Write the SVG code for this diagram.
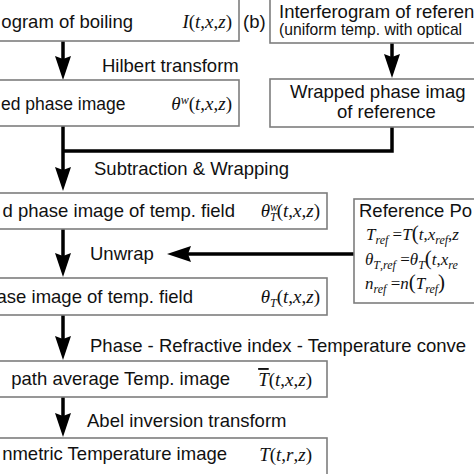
<svg xmlns="http://www.w3.org/2000/svg" width="474" height="474" viewBox="0 0 474 474">
<style>
.box{fill:#fff;stroke:#7d7d7d;stroke-width:1.6}
.lbl{font-family:"Liberation Sans",Arial,sans-serif;font-size:18.5px;fill:#111}
.sm{font-size:15.7px}
.m{font-family:"Liberation Serif","Times New Roman",serif;font-style:italic;font-size:19px;fill:#111}
.mr{font-family:"Liberation Serif","Times New Roman",serif;font-style:italic;font-size:17px;fill:#111}
.up{font-style:normal}
.s{font-size:12px}
.bp{font-style:normal;font-size:21px}
.conn{stroke:#000;stroke-width:3.5;fill:none}
</style>
<defs>
<marker id="ah" viewBox="0 0 24 16" refX="14" refY="8" markerWidth="24" markerHeight="16" markerUnits="userSpaceOnUse" orient="auto">
<path d="M0,0 L24,8 L0,16 L3,8 Z" fill="#000"/>
</marker>
</defs>
<rect x="0" y="0" width="474" height="474" fill="#fff"/>

<g id="connectors">
<line class="conn" x1="63" y1="41" x2="63" y2="70" marker-end="url(#ah)"/>
<line class="conn" x1="63" y1="126" x2="63" y2="181" marker-end="url(#ah)"/>
<polyline class="conn" points="392,127 392,151 63,151"/>
<line class="conn" x1="392" y1="43" x2="392" y2="68" marker-end="url(#ah)"/>
<line class="conn" x1="63" y1="229" x2="63" y2="267" marker-end="url(#ah)"/>
<line class="conn" x1="354" y1="254" x2="177" y2="254" marker-end="url(#ah)"/>
<line class="conn" x1="63" y1="315" x2="63" y2="350" marker-end="url(#ah)"/>
<line class="conn" x1="63" y1="397" x2="63" y2="427" marker-end="url(#ah)"/>
</g>

<g id="edge-labels">
<text class="lbl" x="102" y="72">Hilbert transform</text>
<text class="lbl" x="94" y="175">Subtraction &amp; Wrapping</text>
<text class="lbl" x="90" y="260">Unwrap</text>
<text class="lbl" x="90" y="352">Phase - Refractive index - Temperature conve</text>
<text class="lbl" x="87" y="427">Abel inversion transform</text>
<text class="lbl" x="243" y="28">(b)</text>
</g>

<g id="n1">
<rect class="box" x="-5" y="-5" width="244" height="46"/>
<text class="lbl" x="133" y="28" text-anchor="end">ogram of boiling</text>
<text class="m" x="232" y="28" text-anchor="end">I<tspan class="up">(</tspan>t<tspan class="up">,</tspan>x<tspan class="up">,</tspan>z<tspan class="up">)</tspan></text>
</g>

<g id="n2">
<rect class="box" x="-5" y="80" width="244" height="46"/>
<text class="lbl" x="1" y="110" style="font-size:17.5px">ed phase image</text>
<text class="m" x="232" y="110" text-anchor="end">θ<tspan class="s" dy="-6">w</tspan><tspan class="up" dy="6">(</tspan>t<tspan class="up">,</tspan>x<tspan class="up">,</tspan>z<tspan class="up">)</tspan></text>
</g>

<g id="r1">
<rect class="box" x="270" y="-5" width="210" height="48"/>
<text class="lbl" x="279" y="18">Interferogram of referen</text>
<text class="lbl sm" x="279" y="35">(uniform temp. with optical</text>
</g>

<g id="r2">
<rect class="box" x="270" y="79" width="210" height="48"/>
<text class="lbl" x="290" y="98">Wrapped phase imag</text>
<text class="lbl" x="337" y="118">of reference</text>
</g>

<g id="n3">
<rect class="box" x="-5" y="193" width="332" height="36"/>
<text class="lbl" x="235" y="217" text-anchor="end">d phase image of temp. field</text>
<text class="m" x="320" y="217" text-anchor="end">θ<tspan class="s" dy="-6">w</tspan><tspan class="s" dx="-8" dy="10">T</tspan><tspan class="up" dy="-4">(</tspan>t<tspan class="up">,</tspan>x<tspan class="up">,</tspan>z<tspan class="up">)</tspan></text>
</g>

<g id="refpoint">
<rect class="box" x="354" y="199" width="126" height="104"/>
<text class="lbl" x="359" y="217">Reference Po</text>
<text class="mr" x="366" y="240">T<tspan class="s" dy="4">ref</tspan><tspan class="up" dy="-4"> =</tspan>T<tspan class="bp">(</tspan>t<tspan class="up">,</tspan>x<tspan class="s" dy="4">ref</tspan><tspan class="up" dy="-4">,</tspan>z</text>
<text class="mr" x="365" y="265">θ<tspan class="s" dy="4">T</tspan><tspan class="s up">,</tspan><tspan class="s">ref</tspan><tspan class="up" dy="-4"> =</tspan>θ<tspan class="s" dy="4">T</tspan><tspan class="bp" dy="-4">(</tspan>t<tspan class="up">,</tspan>x<tspan class="s" dy="4">re</tspan></text>
<text class="mr" x="365" y="289">n<tspan class="s" dy="4">ref</tspan><tspan class="up" dy="-4"> =</tspan>n<tspan class="bp">(</tspan>T<tspan class="s" dy="4">ref</tspan><tspan class="bp" dy="-4">)</tspan></text>
</g>

<g id="n4">
<rect class="box" x="-5" y="278" width="332" height="37"/>
<text class="lbl" x="193" y="303" text-anchor="end">ase image of temp. field</text>
<text class="m" x="320" y="303" text-anchor="end">θ<tspan class="s" dy="4">T</tspan><tspan class="up" dy="-4">(</tspan>t<tspan class="up">,</tspan>x<tspan class="up">,</tspan>z<tspan class="up">)</tspan></text>
</g>

<g id="n5">
<rect class="box" x="-5" y="361" width="332" height="36"/>
<text class="lbl" x="230" y="385" text-anchor="end">path average Temp. image</text>
<text class="m" x="312" y="386" text-anchor="end"><tspan text-decoration="overline">T</tspan><tspan class="up">(</tspan>t<tspan class="up">,</tspan>x<tspan class="up">,</tspan>z<tspan class="up">)</tspan></text>
</g>

<g id="n6">
<rect class="box" x="-5" y="438" width="332" height="45"/>
<text class="lbl" x="227" y="460" text-anchor="end">nmetric Temperature image</text>
<text class="m" x="312" y="461" text-anchor="end">T<tspan class="up">(</tspan>t<tspan class="up">,</tspan>r<tspan class="up">,</tspan>z<tspan class="up">)</tspan></text>
</g>
</svg>
